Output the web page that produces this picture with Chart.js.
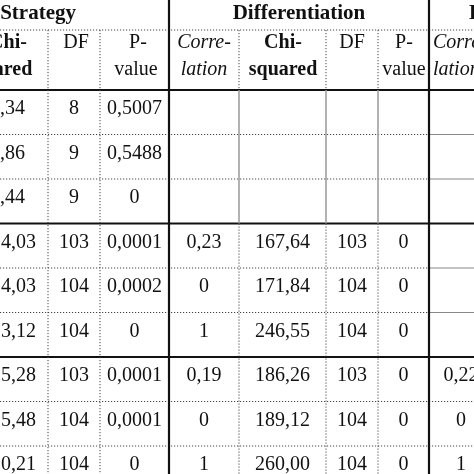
<!DOCTYPE html>
<html><head><meta charset="utf-8">
<script src="https://cdn.jsdelivr.net/npm/chart.js@4"></script>
<style>html,body{margin:0;padding:0;background:#fff}#c{display:block}</style>
</head><body>
<div style="width:474px;height:474px"><canvas id="c"></canvas></div>
<script>
// visible text of each column (first column is cut by the left edge)
const strategyChi = [',34', ',86', '3,44', '4,03', '4,03', '3,12', '5,28', '5,48', '0,21'];
const strategyDF = ['8', '9', '9', '103', '104', '104', '103', '104', '104'];
const strategyP = ['0,5007', '0,5488', '0', '0,0001', '0,0002', '0', '0,0001', '0,0001', '0'];
const diffCorr = ['', '', '', '0,23', '0', '1', '0,19', '0', '1'];
const diffChi = ['', '', '', '167,64', '171,84', '246,55', '186,26', '189,12', '260,00'];
const diffDF = ['', '', '', '103', '104', '104', '103', '104', '104'];
const diffP = ['', '', '', '0', '0', '0', '0', '0', '0'];
const nextCorr = ['', '', '', '', '', '', '0,22', '0', '1'];

const colEdges = [0, 48, 100, 169, 239, 326, 378, 429, 474];
const rowEdges = [90, 134.5, 179, 223.5, 268, 312.5, 357, 401.5, 446, 490];

const serif = '"Liberation Serif", "DejaVu Serif", serif';

const tablePlugin = {
  id: 'table',
  afterDraw(chart) {
    const ctx = chart.ctx, xs = chart.scales.x, ys = chart.scales.y;
    const X = v => xs.getPixelForValue(v), Y = v => ys.getPixelForValue(v);
    ctx.save();
    function line(x1, y1, x2, y2, color, w, dash) {
      ctx.beginPath();
      ctx.strokeStyle = color; ctx.lineWidth = w; ctx.setLineDash(dash || []);
      ctx.moveTo(X(x1), Y(y1)); ctx.lineTo(X(x2), Y(y2)); ctx.stroke();
    }
    function text(s, x, y, font, align) {
      ctx.font = font; ctx.fillStyle = '#111';
      ctx.textAlign = align || 'center'; ctx.textBaseline = 'middle';
      ctx.fillText(s, X(x), Y(y));
    }
    const dot = [1.2, 1.8];
    // horizontal lines
    line(0, 30, 474, 30, '#444', 1, dot);
    rowEdges.forEach((r, i) => {
      const thick = i === 0 || i === 3 || i === 6;
      if (thick) { line(0, r, 474, r, '#111', 2.2); return; }
      line(0, r, 429, r, '#444', 1, dot);
      line(429, r, 474, r, i < 6 ? '#888' : '#444', 1, i < 6 ? null : dot);
    });
    // vertical lines
    line(169, 0, 169, 474, '#111', 2.2);
    line(429, 0, 429, 474, '#111', 2.2);
    [48, 100].forEach(c => line(c, 30, c, 474, '#444', 1, dot));
    [239, 326, 378].forEach(c => {
      line(c, 30, c, 90, '#444', 1, dot);
      line(c, 90, c, 223.5, '#999', 1.5);
      line(c, 223.5, c, 474, '#444', 1, dot);
    });
    // headers
    const bold = 'bold 21px ' + serif, reg = '20px ' + serif;
    const it = 'italic 20px ' + serif, bold20 = 'bold 20px ' + serif;
    text('Strategy', 76, 14, bold, 'right');
    text('Differentiation', 299, 14, bold);
    text('E', 476, 14, bold, 'center');
    text('Chi-', 8, 43, bold20); text('squared', -2, 70, bold20);
    text('DF', 76, 43, reg);
    text('P-', 138, 43, reg); text('value', 136, 70, reg);
    text('Corre-', 204, 43, it); text('lation', 204, 70, it);
    text('Chi-', 283, 43, bold20); text('squared', 283, 70, bold20);
    text('DF', 352, 43, reg);
    text('P-', 404, 43, reg); text('value', 404, 70, reg);
    text('Corre-', 433, 43, it, 'left'); text('lation', 433, 70, it, 'left');
    // body
    const cols = [strategyDF, strategyP, diffCorr, diffChi, diffDF, diffP];
    for (let r = 0; r < strategyChi.length; r++) {
      const yc = rowEdges[r] + 19;
      text(strategyChi[r], r < 3 ? 25 : 36, yc, reg, 'right');
      cols.forEach((col, k) => {
        const cx = (colEdges[k + 1] + colEdges[k + 2]) / 2;
        text(col[r], cx, yc, reg);
      });
      text(nextCorr[r], 461, yc, reg);
    }
    ctx.restore();
  }
};

new Chart(document.getElementById('c'), {
  type: 'scatter',
  data: { datasets: [{ data: [] }] },
  options: {
    responsive: true, maintainAspectRatio: false, animation: false,
    layout: { padding: 0 },
    plugins: { legend: { display: false }, tooltip: { enabled: false } },
    scales: {
      x: { type: 'linear', min: 0, max: 474, display: false },
      y: { type: 'linear', min: 0, max: 474, reverse: true, display: false }
    }
  },
  plugins: [tablePlugin]
});
</script>
</body></html>
